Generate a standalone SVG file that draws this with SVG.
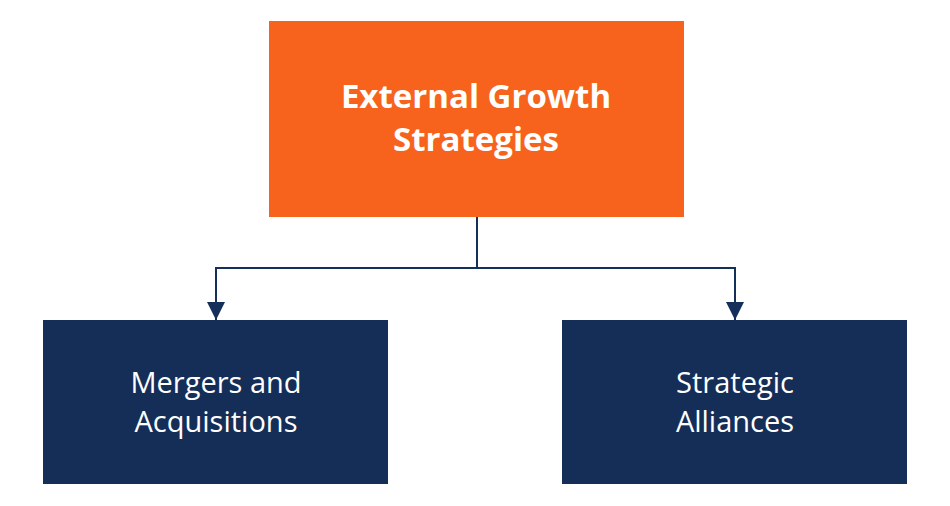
<svg xmlns="http://www.w3.org/2000/svg" width="950" height="506" viewBox="0 0 950 506">
<style>
.t{font-family:"Open Sans","Liberation Sans",sans-serif;fill:#fff;text-anchor:middle}
.b{font-size:33px;font-weight:bold}
.n{font-size:29px}
.c{stroke:#14305a;stroke-width:2;fill:none}
</style>
<defs><marker id="a" viewBox="0 0 10 10" refX="10" refY="5" markerWidth="10" markerHeight="10" markerUnits="userSpaceOnUse" orient="auto"><path d="M0,0L10,5L0,10z" fill="#14305a"/></marker>
<marker id="a2" viewBox="0 0 10 10" refX="10" refY="5" markerWidth="18" markerHeight="18" markerUnits="userSpaceOnUse" orient="auto"><path d="M0,0L10,5L0,10z" fill="#14305a"/></marker></defs>
<rect width="950" height="506" fill="#fff"/>
<g id="top"><rect x="269" y="21" width="415" height="196" fill="#f7631d"/>
<text class="t b" x="476" y="108">External Growth</text><text class="t b" x="476" y="151">Strategies</text></g>
<g id="left"><rect x="43" y="320" width="345" height="164" fill="#142e57"/>
<text class="t n" x="216" y="393">Mergers and</text><text class="t n" x="216" y="432">Acquisitions</text></g>
<g id="right"><rect x="562" y="320" width="345" height="164" fill="#142e57"/>
<text class="t n" x="735" y="393">Strategic</text><text class="t n" x="735" y="432">Alliances</text></g>
<g id="connectors">
<path class="c" d="M477,217V268H216V320" marker-end="url(#a2)"/>
<path class="c" d="M477,268H735V320" marker-end="url(#a2)"/>
</g>
</svg>
